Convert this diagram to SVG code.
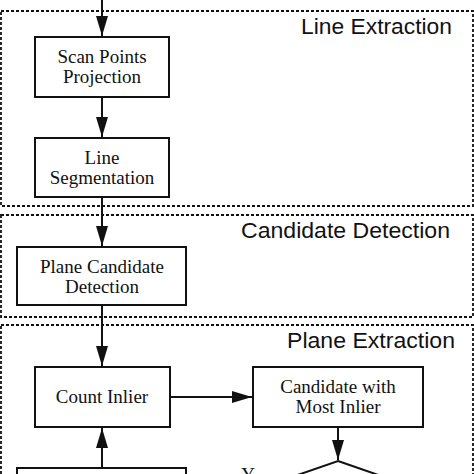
<svg xmlns="http://www.w3.org/2000/svg" width="474" height="474" viewBox="0 0 474 474">
<style>
.grp{fill:none;stroke:#111;stroke-width:1.8;stroke-dasharray:3,2}
.node{fill:#fff;stroke:#111;stroke-width:2}
.t{font-family:"Liberation Serif","Times New Roman",serif;font-size:19px;fill:#111;text-anchor:middle}
.g{font-family:"Liberation Sans",Arial,sans-serif;font-size:22.5px;fill:#111;text-anchor:end}
.c{fill:none;stroke:#111;stroke-width:2}
</style>
<defs>
<marker id="ah" markerUnits="userSpaceOnUse" markerWidth="20" markerHeight="12" viewBox="0 0 20 12" refX="20" refY="6" orient="auto">
<path d="M0,0 L20,6 L0,12 Z" fill="#111"/>
</marker>
</defs>
<rect width="474" height="474" fill="#fff"/>
<g id="group-line-extraction">
<rect class="grp" x="1" y="11" width="472" height="195"/>
<text class="g" x="452" y="34" textLength="151" lengthAdjust="spacingAndGlyphs">Line Extraction</text>
</g>
<g id="group-candidate-detection">
<rect class="grp" x="1" y="215" width="472" height="102"/>
<text class="g" x="450" y="238" textLength="209" lengthAdjust="spacingAndGlyphs">Candidate Detection</text>
</g>
<g id="group-plane-extraction">
<rect class="grp" x="1" y="325" width="472" height="200"/>
<text class="g" x="455" y="348" textLength="168" lengthAdjust="spacingAndGlyphs">Plane Extraction</text>
</g>
<g id="connectors">
<line class="c" x1="102" y1="0" x2="102" y2="36" marker-end="url(#ah)"/>
<line class="c" x1="102" y1="97" x2="102" y2="137" marker-end="url(#ah)"/>
<line class="c" x1="102" y1="197" x2="102" y2="246" marker-end="url(#ah)"/>
<line class="c" x1="102" y1="305" x2="102" y2="366" marker-end="url(#ah)"/>
<line class="c" x1="102" y1="468" x2="102" y2="428" marker-end="url(#ah)"/>
<line class="c" x1="170" y1="397" x2="252" y2="397" marker-end="url(#ah)"/>
<line class="c" x1="338" y1="427" x2="338" y2="460" marker-end="url(#ah)"/>
<text class="t" x="248" y="481">Y</text>
</g>
<g id="scan-points-projection">
<rect class="node" x="35" y="37" width="134" height="60"/>
<text class="t" x="102" y="63">Scan Points</text>
<text class="t" x="102" y="83">Projection</text>
</g>
<g id="line-segmentation">
<rect class="node" x="35" y="138" width="134" height="59"/>
<text class="t" x="102" y="164">Line</text>
<text class="t" x="102" y="184">Segmentation</text>
</g>
<g id="plane-candidate-detection">
<rect class="node" x="17" y="247" width="169" height="58"/>
<text class="t" x="102" y="273">Plane Candidate</text>
<text class="t" x="102" y="293">Detection</text>
</g>
<g id="count-inlier">
<rect class="node" x="35" y="367" width="135" height="60"/>
<text class="t" x="102" y="403">Count Inlier</text>
</g>
<g id="candidate-most-inlier">
<rect class="node" x="253" y="367" width="170" height="60"/>
<text class="t" x="338" y="393">Candidate with</text>
<text class="t" x="338" y="413">Most Inlier</text>
</g>
<g id="bottom-box">
<rect class="node" x="17" y="468" width="169" height="60"/>
</g>
<g id="decision">
<polygon class="node" points="338,461 413,487 338,513 263,487"/>
</g>
</svg>
